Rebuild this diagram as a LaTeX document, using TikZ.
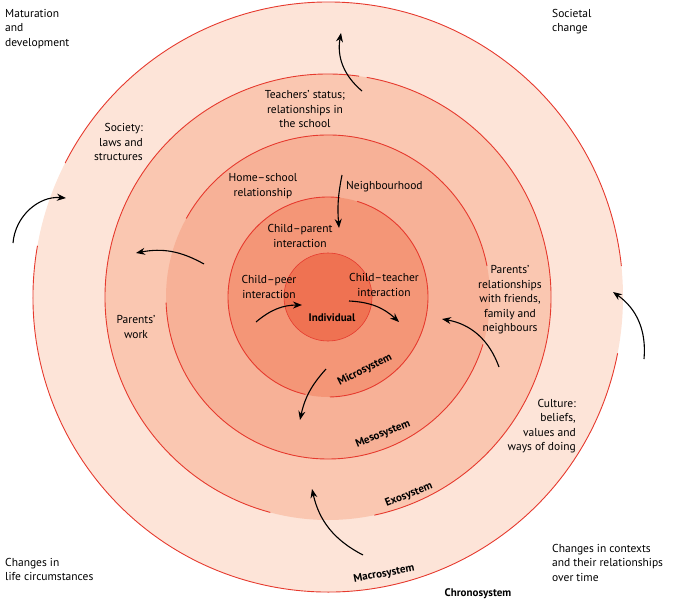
\documentclass[tikz,border=0pt]{standalone}
\usepackage{fontspec}
\setmainfont{PT Sans}
\usetikzlibrary{arrows.meta}
\definecolor{macro}{HTML}{FDE4D8}
\definecolor{exo}{HTML}{FAC7B1}
\definecolor{meso}{HTML}{F7B197}
\definecolor{micro}{HTML}{F49677}
\definecolor{indiv}{HTML}{EF7252}
\definecolor{ring}{HTML}{E63A2E}
\begin{document}
\begin{tikzpicture}[x=1pt,y=1pt,
  lab/.style={font=\fontsize{11.5}{14.5}\selectfont,inner sep=0pt,align=center},
  sys/.style={font=\fontsize{11}{14}\selectfont\bfseries,inner sep=0pt},
  rim/.style={draw=ring,line width=0.9pt},
  arr/.style={-{Stealth[length=9pt,width=7pt]},line width=1.1pt,black}]
\useasboundingbox (0,0) rectangle (685,-602);
\coordinate (c) at (328,-297);
\fill[macro] (c) circle[radius=295];
\fill[exo] (c) circle[radius=223];
\fill[meso] (c) circle[radius=162];
\fill[micro] (c) circle[radius=100];
\fill[indiv] (c) circle[radius=44];
\draw[rim] (c) ++(6:295) arc[start angle=6,end angle=153,radius=295];
\draw[rim] (c) ++(170:295) arc[start angle=170,end angle=349,radius=295];
\draw[rim] (c) ++(82:223) arc[start angle=82,end angle=255,radius=223];
\draw[rim] (c) ++(282:223) arc[start angle=282,end angle=440,radius=223];
\draw[rim] (c) ++(11:162) arc[start angle=11,end angle=151,radius=162];
\draw[rim] (c) ++(182:162) arc[start angle=182,end angle=343,radius=162];
\draw[rim] (c) ++(83:100) arc[start angle=83,end angle=257,radius=100];
\draw[rim] (c) ++(271:100) arc[start angle=271,end angle=433,radius=100];
\draw[rim,line width=0.6pt] (c) circle[radius=44];

% texts
\node[lab,align=left,anchor=north west] (mat) at (5,-9) {Maturation\\and\\development};
\node[lab,align=left,anchor=north west] (soc) at (552,-9) {Societal\\change};
\node[lab] (teach) at (305,-109) {Teachers’ status;\\relationships in\\the school};
\node[lab,align=right,anchor=east] (laws) at (143,-142) {Society:\\laws and\\structures};
\node[lab] (home) at (263,-186) {Home–school\\relationship};
\node[lab,anchor=west] (neigh) at (346,-187) {Neighbourhood};
\node[lab] (cpar) at (300,-236) {Child–parent\\interaction};
\node[lab] (cpeer) at (269,-287) {Child–peer\\interaction};
\node[lab] (ctea) at (384,-285) {Child–teacher\\interaction};
\node[sys] (ind) at (332,-318) {Individual};
\node[lab] (pwork) at (136,-327) {Parents’\\work};
\node[lab] (prel) at (510,-300) {Parents’\\relationships\\with friends,\\family and\\neighbours};
\node[lab,align=right,anchor=east] (cult) at (576,-426) {Culture:\\beliefs,\\values and\\ways of doing};
\node[sys,rotate=27] (micro) at (365,-370) {Microsystem};
\node[sys,rotate=22] (meso) at (383,-434) {Mesosystem};
\node[sys,rotate=22] (exo) at (409,-495) {Exosystem};
\node[sys,rotate=11] (macro) at (384,-574) {Macrosystem};
\node[sys] (chrono) at (478,-594) {Chronosystem};
\node[lab,align=left,anchor=north west] (life) at (5,-558) {Changes in\\life circumstances};
\node[lab,align=left,anchor=north west] (ctx) at (552,-544) {Changes in contexts\\and their relationships\\over time};

% arrows
\coordinate (a1) at (362,-91); \coordinate (b1) at (341,-33);
\coordinate (a2) at (13,-243); \coordinate (b2) at (66,-198);
\coordinate (a3) at (204,-264); \coordinate (b3) at (136,-253);
\coordinate (a4) at (342,-175); \coordinate (b4) at (339,-228);
\coordinate (a5) at (256,-322); \coordinate (b5) at (302,-305);
\coordinate (a6) at (349,-301); \coordinate (b6) at (399,-322);
\coordinate (a7) at (326,-369); \coordinate (b7) at (300,-420);
\coordinate (a8) at (499,-367); \coordinate (b8) at (442,-319);
\coordinate (a9) at (644,-359); \coordinate (b9) at (613,-292);
\coordinate (a10) at (363,-555); \coordinate (b10) at (312,-489);
\draw[arr] (a1) to[bend left=30] (b1);
\draw[arr] (a2) to[bend left=45] (b2);
\draw[arr] (a3) to[bend right=20] (b3);
\draw[arr] (a4) to[bend right=8] (b4);
\draw[arr] (a5) to[bend left=20] (b5);
\draw[arr] (a6) to[bend left=20] (b6);
\draw[arr] (a7) to[bend right=15] (b7);
\draw[arr] (a8) to[bend right=30] (b8);
\draw[arr] (a9) to[bend right=30] (b9);
\draw[arr] (a10) to[bend left=25] (b10);
\end{tikzpicture}
\end{document}
